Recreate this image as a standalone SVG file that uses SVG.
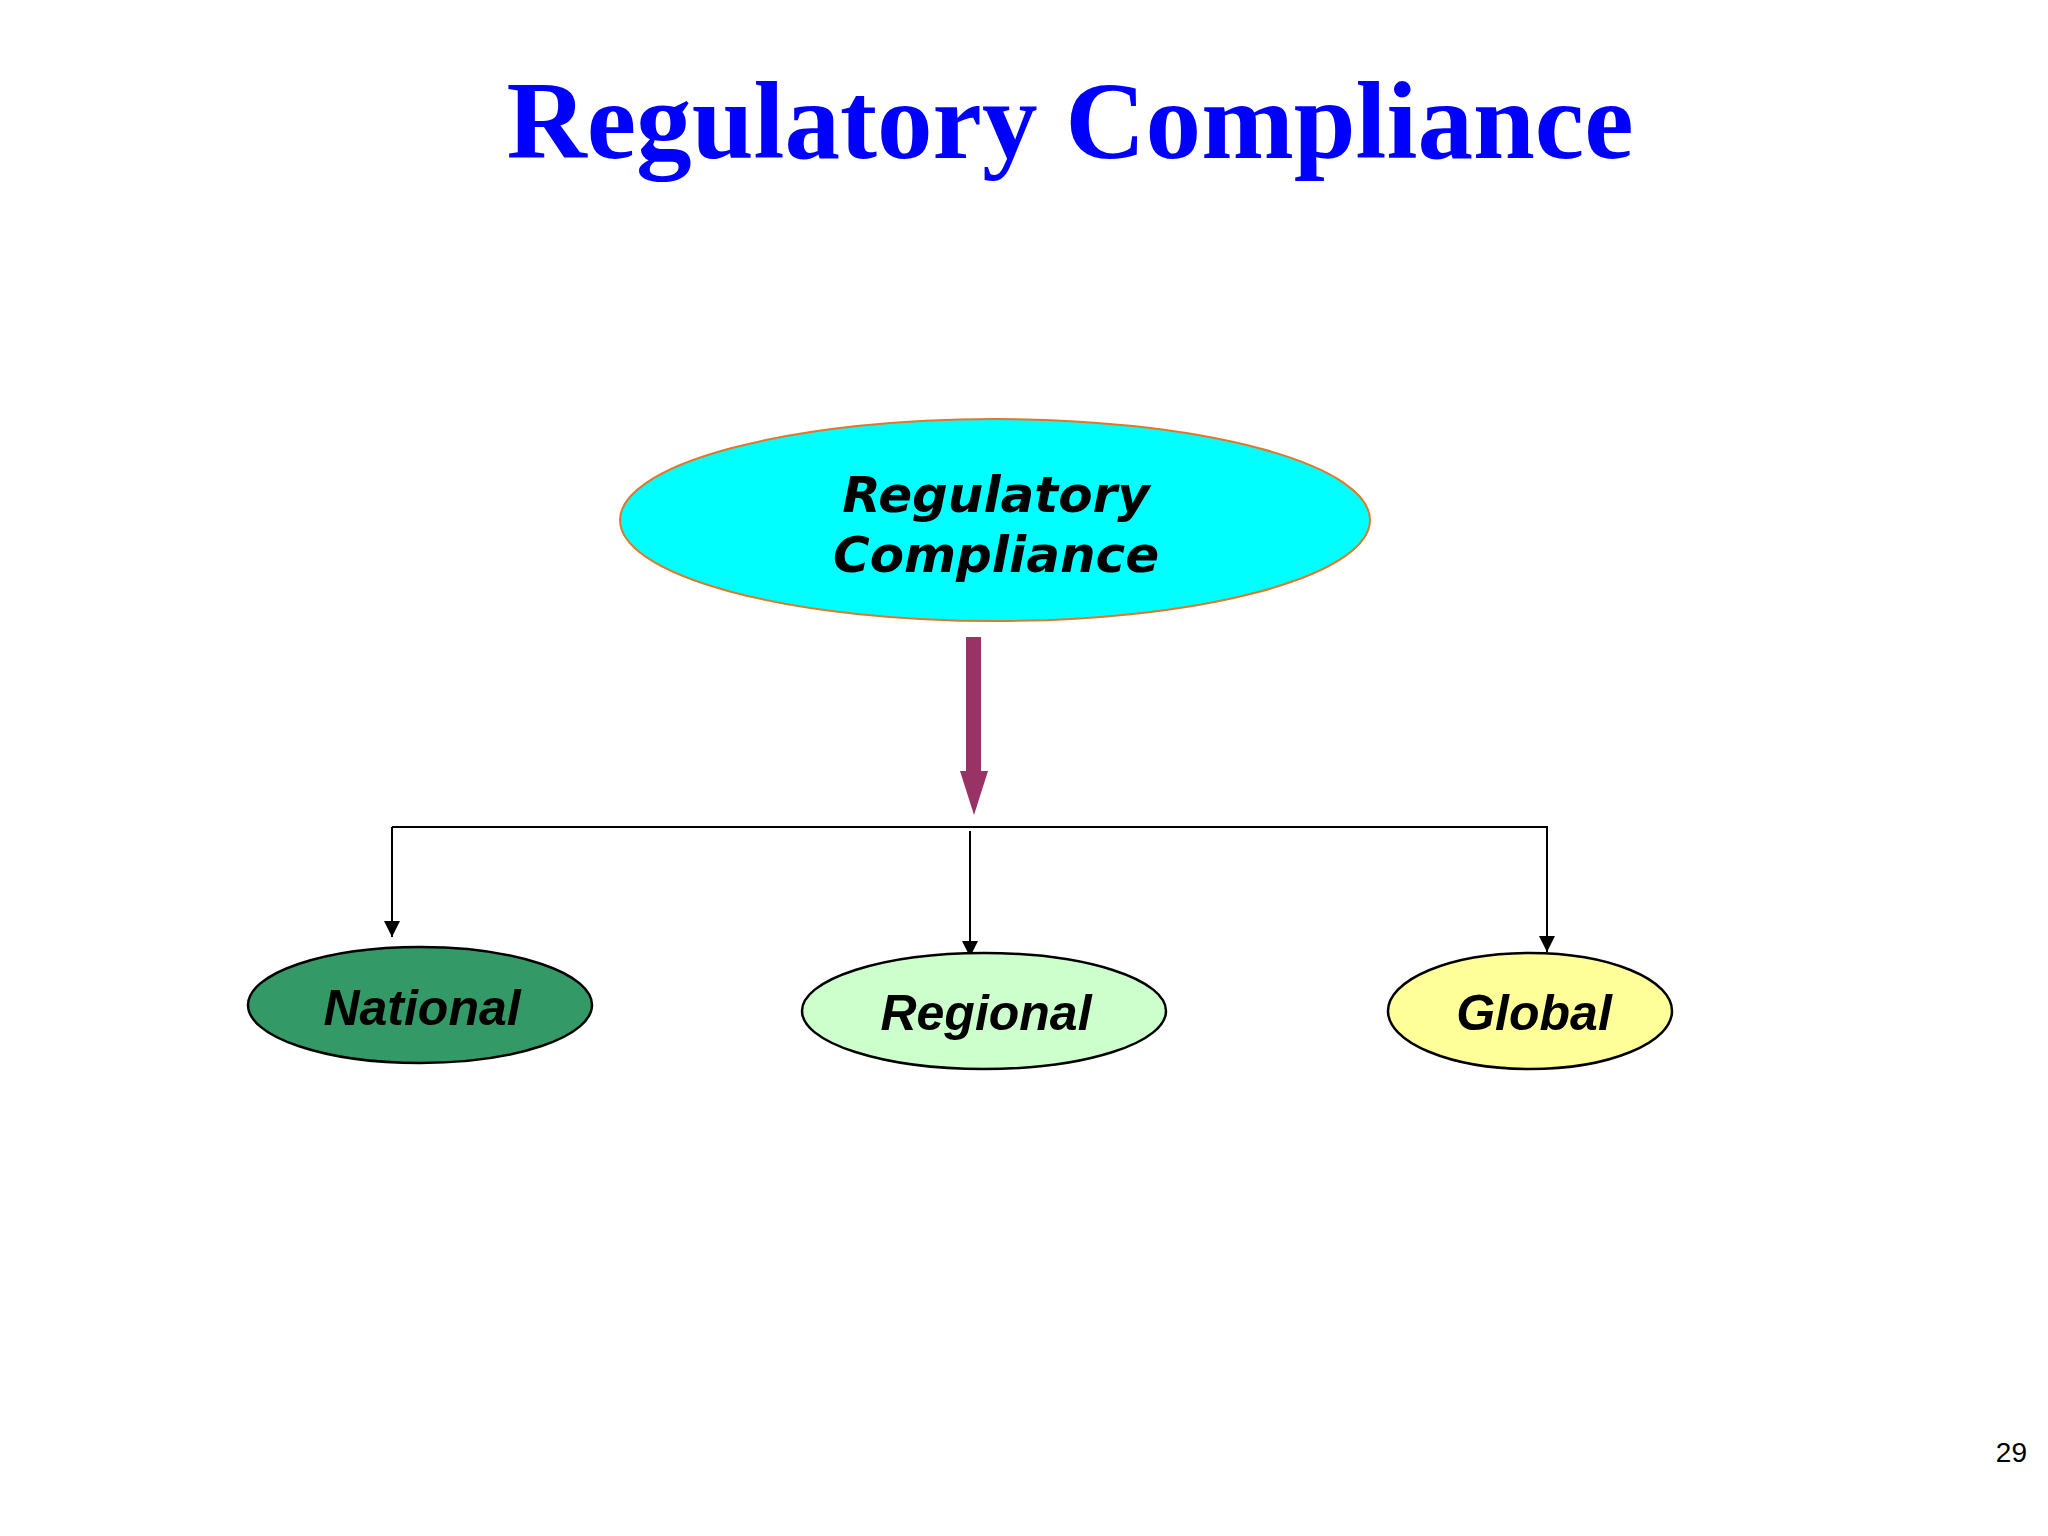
<svg xmlns="http://www.w3.org/2000/svg" width="2048" height="1536" viewBox="0 0 2048 1536">
<style>
.node-label{font-family:"Liberation Sans",Arial,sans-serif;font-weight:bold;font-style:italic;font-size:50px;fill:#000;text-anchor:middle}
.main-label{font-family:"DejaVu Sans",Verdana,sans-serif;font-weight:bold;font-style:italic;font-size:50px;fill:#000;text-anchor:middle}
.conn{stroke:#000;stroke-width:2;fill:none}
.child{stroke:#000;stroke-width:2.5}
</style>
<defs>
<marker id="ah" viewBox="0 0 10 10" refX="10" refY="5" markerWidth="17" markerHeight="16" markerUnits="userSpaceOnUse" orient="auto">
<path d="M0,0 L10,5 L0,10 Z" fill="#000"/>
</marker>
</defs>
<rect width="2048" height="1536" fill="#ffffff"/>
<text x="1070" y="158" font-family="'Liberation Serif','Times New Roman',serif" font-weight="bold" font-size="110" fill="#0000FF" text-anchor="middle" textLength="1127" lengthAdjust="spacingAndGlyphs">Regulatory Compliance</text>

<g id="node-regulatory-compliance">
<ellipse cx="995" cy="520" rx="375" ry="101" fill="#00FFFF" stroke="#E0782A" stroke-width="2"/>
<text class="main-label" x="996" y="512">Regulatory</text>
<text class="main-label" x="996" y="572">Compliance</text>
</g>

<g id="connectors">
<path d="M966,637 H981 V771 H988 L974,815 L960,771 H966 Z" fill="#993366"/>
<line class="conn" x1="392" y1="827" x2="1548" y2="827"/>
<line class="conn" x1="392" y1="827" x2="392" y2="937" marker-end="url(#ah)" stroke-width="1.5"/>
<line class="conn" x1="970" y1="831" x2="970" y2="957" marker-end="url(#ah)" stroke-width="1.5"/>
<line class="conn" x1="1547" y1="827" x2="1547" y2="952" marker-end="url(#ah)" stroke-width="1.5"/>
</g>

<g id="node-national">
<ellipse class="child" cx="420" cy="1005" rx="172" ry="58" fill="#339966"/>
<text class="node-label" x="422" y="1025">National</text>
</g>
<g id="node-regional">
<ellipse class="child" cx="984" cy="1011" rx="182" ry="58" fill="#CCFFCC"/>
<text class="node-label" x="986" y="1030">Regional</text>
</g>
<g id="node-global">
<ellipse class="child" cx="1530" cy="1011" rx="142" ry="58" fill="#FFFF99"/>
<text class="node-label" x="1534" y="1030">Global</text>
</g>

<text x="2027" y="1462" font-family="'Liberation Sans',Arial,sans-serif" font-size="28" fill="#000" text-anchor="end">29</text>
</svg>
